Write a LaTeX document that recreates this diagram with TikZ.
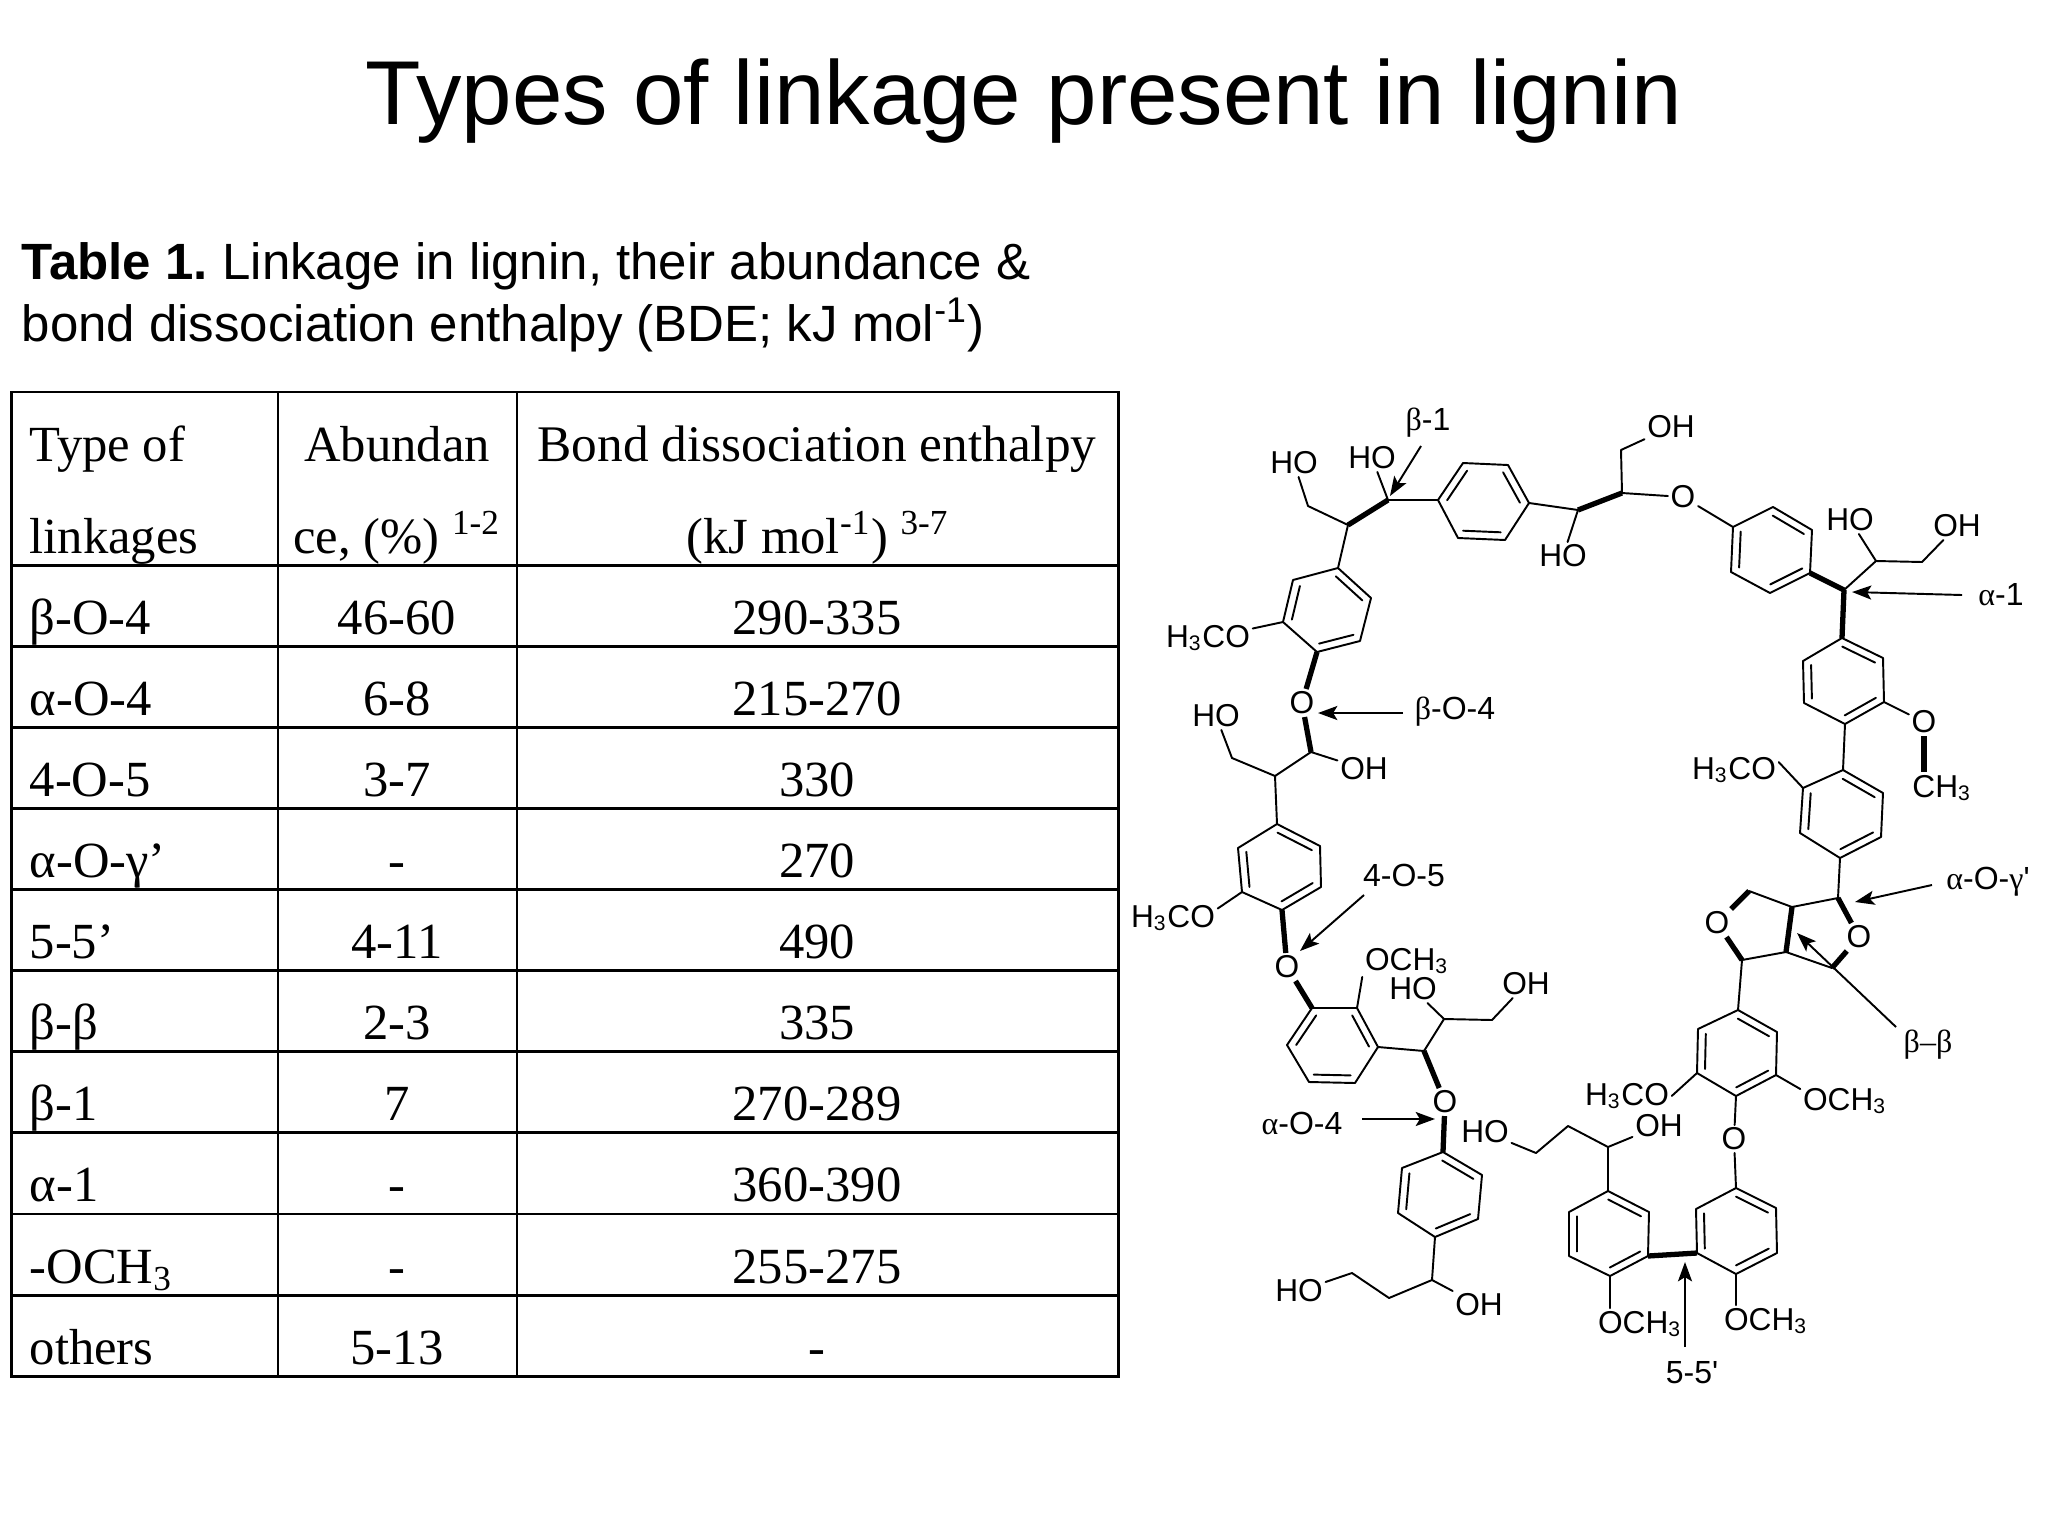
\documentclass[tikz,border=0pt]{standalone}
\usepackage{fontspec}
\setmainfont{Liberation Sans}
\newfontfamily\tabfont{Liberation Serif}
\usetikzlibrary{calc,arrows.meta}
\def\gk#1{{\tabfont #1}}
\def\phring#1(#2)(#3)(#4)(#5)(#6)(#7){
	\coordinate (#1a) at (#2);
	\coordinate (#1b) at (#3);
	\coordinate (#1c) at (#4);
	\coordinate (#1d) at (#5);
	\coordinate (#1e) at (#6);
	\coordinate (#1f) at (#7);
	\coordinate (#1m) at ($(#2)!0.5!(#5)$);
	\draw[bond] (#1a) -- (#1b) -- (#1c) -- (#1d) -- (#1e) -- (#1f) -- cycle;
	\draw[bond] ($(#1a)!0.2!(#1m)$) -- ($(#1b)!0.2!(#1m)$);
	\draw[bond] ($(#1c)!0.2!(#1m)$) -- ($(#1d)!0.2!(#1m)$);
	\draw[bond] ($(#1e)!0.2!(#1m)$) -- ($(#1f)!0.2!(#1m)$);
}
\tikzset{
	bond/.style={line width=0.55pt, line join=round, line cap=round},
	hbond/.style={line width=1.5pt},
	pointer/.style={line width=0.55pt, -{Stealth[length=5.5pt,width=4pt,inset=1.2pt]}},
	atomlab/.style={inner sep=0.6pt, font=\fontsize{9}{11}\selectfont},
	linklab/.style={inner sep=0pt, font=\fontsize{9.1}{11}\selectfont},
	rule/.style={line width=0.7pt, line cap=rect},
	celltxt/.style={inner sep=0pt, anchor=base, font=\tabfont\fontsize{14.4}{16}\selectfont},
	celltxtl/.style={celltxt, anchor=base west},
}
\begin{document}
\begin{tikzpicture}[x=0.01cm, y=-0.01cm]
	\useasboundingbox (0,0) rectangle (2048,1536);

	\node[anchor=base, inner sep=0pt, font=\fontsize{25.8}{30}\selectfont] (title) at (1024,124) {Types of linkage present in lignin};
	\node[anchor=base west, inner sep=0pt, font=\fontsize{14.5}{17}\selectfont] (capa) at (21,279) {\textbf{Table 1.}\hspace{-1.2pt} Linkage in lignin, their abundance \&};
	\node[anchor=base west, inner sep=0pt, font=\fontsize{14.5}{17}\selectfont] (capb) at (21,341) {bond dissociation enthalpy (BDE; kJ mol\textsuperscript{-1})};

	\foreach \y in {392,565.5,646.5,727.5,808.5,889.5,970.5,1051.5,1132.5,1214,1295.5,1376.5}
		\draw[rule] (11.5,\y) -- (1118.5,\y);
	\foreach \x in {11.5,278,517,1118.5}
		\draw[rule] (\x,392) -- (\x,1376.5);

	\node[celltxtl] (hda) at (29,461) {Type of};
	\node[celltxtl] (hdb) at (29,553) {linkages};
	\node[celltxt] (hdc) at (397,461) {Abundan};
	\node[celltxt] (hdd) at (397,553) {ce, (\%) \textsuperscript{1-2}};
	\node[celltxt, font=\tabfont\fontsize{14.6}{16}\selectfont] (hde) at (817,461) {Bond dissociation enthalpy};
	\node[celltxt] (hdf) at (818,553) {(kJ mol\textsuperscript{-1}) \textsuperscript{3-7}};

	\foreach \rb/\lk/\ab/\bd [count=\n] in {
		646.5/β-O-4/46-60/290-335,
		727.5/α-O-4/6-8/215-270,
		808.5/4-O-5/3-7/330,
		889.5/α-O-γ’/-/270,
		970.5/5-5’/4-11/490,
		1051.5/β-β/2-3/335,
		1132.5/β-1/7/270-289,
		1214/α-1/-/360-390,
		1295.5/-OCH\textsubscript{3}/-/255-275,
		1376.5/others/5-13/-}{
		\node[celltxtl] (lk\n) at (29,\rb-12.5) {\lk};
		\node[celltxt] (ab\n) at (397,\rb-12.5) {\ab};
		\node[celltxt] (bd\n) at (817,\rb-12.5) {\bd};
	}

	\phring{ra}(1338,568)(1371,598)(1360,641)(1317,652)(1283,622)(1293,580)
	\phring{rb}(1438,500)(1463,463)(1508,465)(1529,503)(1505,540)(1458,538)
	\phring{rc}(1773,507)(1812,530)(1810,573)(1770,593)(1731,572)(1733,527)
	\phring{rd}(1842,638)(1883,658)(1884,702)(1845,724)(1804,703)(1803,661)
	\phring{re}(1843,770)(1883,793)(1881,837)(1840,858)(1800,833)(1803,788)
	\phring{rf}(1738,1010)(1777,1032)(1776,1075)(1736,1096)(1697,1073)(1698,1029)
	\phring{rg}(1443,1152)(1482,1175)(1478,1219)(1435,1237)(1398,1213)(1402,1168)
	\phring{rh}(1608,1191)(1649,1212)(1648,1256)(1610,1276)(1569,1256)(1569,1212)
	\phring{ri}(1736,1188)(1776,1208)(1777,1253)(1736,1274)(1697,1253)(1696,1209)
	\phring{rj}(1277,824)(1320,846)(1321,887)(1282,910)(1242,892)(1238,848)
	\phring{rk}(1357,1008)(1378,1047)(1355,1083)(1309,1082)(1287,1045)(1312,1008)

	\node[atomlab] (hoa) at (1294,463) {HO};
	\node[atomlab] (hob) at (1372,458) {HO};
	\node[atomlab] (hoc) at (1563,556) {HO};
	\node[atomlab] (oha) at (1671,427) {OH};
	\node[atomlab] (oe) at (1683,497) {O};
	\node[atomlab] (hod) at (1850,520) {HO};
	\node[atomlab] (ohb) at (1957,526) {OH};
	\node[atomlab] (mea) at (1208,638) {H\textsubscript{3}CO};
	\node[atomlab] (ob) at (1302,703) {O};
	\node[atomlab] (hoe) at (1216,716) {HO};
	\node[atomlab] (ohc) at (1364,769) {OH};
	\node[atomlab] (meb) at (1173,918) {H\textsubscript{3}CO};
	\node[atomlab] (oc) at (1287,967) {O};
	\node[atomlab] (mec) at (1407,961) {OCH\textsubscript{3}};
	\node[atomlab] (hof) at (1413,989) {HO};
	\node[atomlab] (ohd) at (1526,984) {OH};
	\node[atomlab] (od) at (1445,1102) {O};
	\node[atomlab] (hog) at (1299,1291) {HO};
	\node[atomlab] (ohe) at (1479,1305) {OH};
	\node[atomlab] (hoh) at (1485,1132) {HO};
	\node[atomlab] (ohf) at (1659,1126) {OH};
	\node[atomlab] (oj) at (1734,1139) {O};
	\node[atomlab] (med) at (1627,1096) {H\textsubscript{3}CO};
	\node[atomlab] (mee) at (1845,1101) {OCH\textsubscript{3}};
	\node[atomlab] (mef) at (1640,1324) {OCH\textsubscript{3}};
	\node[atomlab] (meg) at (1766,1321) {OCH\textsubscript{3}};
	\node[atomlab] (of) at (1924,722) {O};
	\node[atomlab] (cha) at (1942,788) {CH\textsubscript{3}};
	\node[atomlab] (meh) at (1734,770) {H\textsubscript{3}CO};
	\node[atomlab] (og) at (1717,923) {O};
	\node[atomlab] (oh) at (1859,937) {O};

	\coordinate (caa) at (1308,506);
	\coordinate (cab) at (1348,525);
	\coordinate (cac) at (1388,500);
	\coordinate (cad) at (1578,510);
	\coordinate (cae) at (1622,493);
	\coordinate (caf) at (1621,450);
	\coordinate (cba) at (1844,590);
	\coordinate (cbb) at (1876,561);
	\coordinate (cbc) at (1922,562);
	\coordinate (cca) at (1232,758);
	\coordinate (ccb) at (1275,776);
	\coordinate (ccc) at (1311,752);
	\coordinate (cda) at (1424,1051);
	\coordinate (cdb) at (1444,1019);
	\coordinate (cdc) at (1492,1020);
	\coordinate (cea) at (1838,898);
	\coordinate (ceb) at (1792,907);
	\coordinate (cec) at (1786,952);
	\coordinate (ced) at (1742,960);
	\coordinate (cee) at (1749,891);
	\coordinate (cef) at (1832,968);
	\coordinate (cfa) at (1432,1280);
	\coordinate (cfb) at (1389,1298);
	\coordinate (cfc) at (1352,1273);
	\coordinate (cga) at (1536,1153);
	\coordinate (cgb) at (1568,1126);
	\coordinate (cgc) at (1608,1147);

	\draw[bond] (hoa) -- (caa) -- (cab);
	\draw[hbond] (cab) -- (cac);
	\draw[bond] (cab) -- (raa);
	\draw[bond] (cac) -- (hob);
	\draw[bond] (cac) -- (rba);
	\draw[bond] (rbd) -- (cad) -- (hoc);
	\draw[hbond] (cad) -- (cae);
	\draw[bond] (cae) -- (caf) -- (oha);
	\draw[bond] (cae) -- (oe);
	\draw[bond] (oe) -- (rcf);
	\draw[hbond] (rcc) -- (cba);
	\draw[bond] (cba) -- (cbb) -- (cbc) -- (ohb);
	\draw[bond] (cbb) -- (hod);
	\draw[hbond] (cba) -- (rda);
	\draw[bond] (rdc) -- (of);
	\draw[hbond] (of) -- (of |- cha.north);
	\draw[bond] (rdd) -- (rea);
	\draw[bond] (meh.10) -- (ref);
	\draw[bond] (mea.12) -- (rae);
	\draw[hbond] (rad) -- (ob);
	\draw[hbond] (ob) -- (ccc);
	\draw[bond] (hoe) -- (cca) -- (ccb) -- (ccc) -- (ohc);
	\draw[bond] (ccb) -- (rja);
	\draw[bond] (meb.12) -- (rje);
	\draw[hbond] (rjd) -- (oc);
	\draw[hbond] (oc) -- (rkf);
	\draw[bond] (rka) -- (mec.south west);
	\draw[bond] (rkb) -- (cda) -- (cdb) -- (cdc) -- (ohd);
	\draw[bond] (cdb) -- (hof);
	\draw[hbond] (cda) -- (od);
	\draw[hbond] (od) -- (rga);
	\draw[bond] (rgd) -- (cfa) -- (cfb) -- (cfc) -- (hog);
	\draw[bond] (cfa) -- (ohe);
	\draw[bond] (hoh) -- (cga) -- (cgb) -- (cgc) -- (ohf);
	\draw[bond] (cgc) -- (rha);
	\draw[hbond] (rhc) -- (rie);
	\draw[bond] (rhd) -- (rhd |- mef.north);
	\draw[bond] (rid) -- (rid |- meg.north);
	\draw[bond] (rfd) -- (oj) -- (ria);
	\draw[bond] (med.east) -- (rfe);
	\draw[bond] (rfc) -- (mee.165);
	\draw[bond] (red) -- (cea) -- (ceb) -- (cec) -- (ced) -- (rfa);
	\draw[bond] (ceb) -- (cee);
	\draw[bond] (cec) -- (cef);
	\draw[hbond] (ceb) -- (cec);
	\draw[hbond] (cee) -- (og);
	\draw[hbond] (og) -- (ced);
	\draw[hbond] (cea) -- (oh);
	\draw[hbond] (oh) -- (cef);

	\coordinate (pba) at (1421,446);
	\coordinate (pbb) at (1390,496);
	\coordinate (pca) at (1403,713);
	\coordinate (pcb) at (1318,713);
	\coordinate (pda) at (1962,595);
	\coordinate (pdb) at (1852,592);
	\coordinate (pea) at (1932,885);
	\coordinate (peb) at (1855,902);
	\coordinate (pfa) at (1896,1027);
	\coordinate (pfb) at (1797,933);
	\coordinate (pga) at (1364,895);
	\coordinate (pgb) at (1300,951);
	\coordinate (pha) at (1362,1119);
	\coordinate (phb) at (1435,1119);
	\coordinate (pia) at (1685,1347);
	\coordinate (pib) at (1685,1262);
	\draw[pointer] (pba) -- (pbb);
	\draw[pointer] (pca) -- (pcb);
	\draw[pointer] (pda) -- (pdb);
	\draw[pointer] (pea) -- (peb);
	\draw[pointer] (pfa) -- (pfb);
	\draw[pointer] (pga) -- (pgb);
	\draw[pointer] (pha) -- (phb);
	\draw[pointer] (pia) -- (pib);

	\node[linklab] (lba) at (1428,423) {\gk{β}-1};
	\node[linklab] (lbb) at (1455,712) {\gk{β}-O-4};
	\node[linklab] (lbc) at (2001,595) {\gk{α}-1};
	\node[linklab] (lbd) at (1988,882) {\gk{α}-O-\gk{γ}\textquotesingle};
	\node[linklab] (lbe) at (1928,1045) {\gk{β–β}};
	\node[linklab] (lbf) at (1404,875) {4-O-5};
	\node[linklab] (lbg) at (1302,1123) {\gk{α}-O-4};
	\node[linklab] (lbh) at (1692,1373) {5-5\textquotesingle};
\end{tikzpicture}
\end{document}
